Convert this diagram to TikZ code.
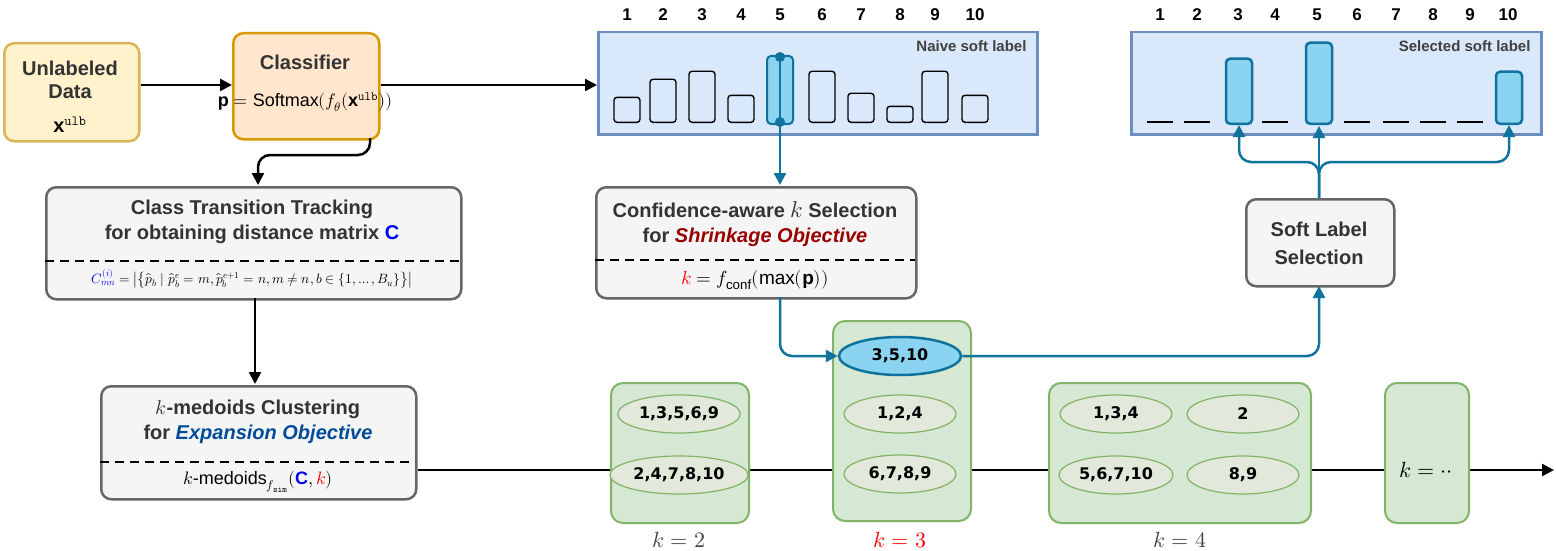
\documentclass[tikz,border=0pt]{standalone}
\usepackage{fontspec}
\setmainfont{Liberation Sans}
\newfontfamily\lblfont{DejaVu Sans}
\usepackage{amsmath}
\usepackage{unicode-math}
\setmathfont{Latin Modern Math}
\usetikzlibrary{shapes.geometric,arrows.meta,positioning}
\definecolor{cyb}{HTML}{10739E}
\definecolor{hl}{HTML}{8AD4F2}
\definecolor{grayfill}{HTML}{F5F5F5}
\definecolor{grayline}{HTML}{666666}
\definecolor{gfill}{HTML}{D5E8D4}
\definecolor{gline}{HTML}{82B366}
\definecolor{efill}{HTML}{E2E8DA}
\definecolor{bfill}{HTML}{DAE8FC}
\definecolor{bline}{HTML}{6C8EBF}
\definecolor{dred}{HTML}{990000}
\definecolor{dblue}{HTML}{004C99}
\definecolor{yline}{HTML}{D6B656}
\definecolor{yfill}{HTML}{FFF2CC}
\definecolor{oline}{HTML}{D79B00}
\definecolor{ofill}{HTML}{FFE6CC}
\newcommand{\fs}[1]{\fontsize{#1}{#1}\selectfont}
\tikzset{
  x=1pt,y=-1pt,
  box/.style={draw=grayline,fill=grayfill,line width=2.5pt,rounded corners=10pt,anchor=north west,inner sep=0},
  grp/.style={draw=gline,fill=gfill,line width=2pt,rounded corners=12pt,anchor=north west,inner sep=0},
  el/.style={ellipse,draw=gline,fill=efill,line width=1.2pt,minimum width=112pt,minimum height=38pt,font=\lblfont\bfseries\fs{16}},
  bar/.style={draw=black,line width=1.4pt,rounded corners=3pt,minimum width=26pt,anchor=south,inner sep=0},
  sbar/.style={draw=cyb,fill=hl,line width=2.5pt,rounded corners=4pt,minimum width=26pt,anchor=south,inner sep=0},
  num/.style={font=\bfseries\fs{17}},
  conn/.style={line width=2.5pt,-{Triangle[length=12pt,width=12pt]}},
  bconn/.style={conn,draw=cyb,color=cyb,rounded corners=12pt},
  btitle/.style={font=\bfseries\fs{20},text=black!80,align=center},
}
\begin{document}
\begin{tikzpicture}
\useasboundingbox (0,0) rectangle (1556,551);
% top-left
\node[box,draw=yline,fill=yfill,minimum width=135pt,minimum height=98pt] (ud) at (3,42) {};
\node[btitle,align=center] at (70,80) {Unlabeled\\[3pt]Data};
\node[font=\fs{20}] at (70,125) {$\mathbf{x}^{\texttt{ulb}}$};
\node[box,draw=oline,fill=ofill,minimum width=146pt,minimum height=106pt] (cl) at (232,32) {};
\node[btitle] at (305,62) {Classifier};
\node[font=\fs{18}] at (305,102) {$\mathbf{p}=\mathrm{Softmax}(f_{\theta}(\mathbf{x}^{\texttt{ulb}}))$};
\draw[conn] (ud.east|-0,85) -- (cl.west|-0,85);

% naive soft label
\node[draw=bline,fill=bfill,line width=2.5pt,anchor=north west,minimum width=439pt,minimum height=102pt,inner sep=0] (nv) at (597,31) {};
\node[font=\bfseries\fs{15},text=black!75,anchor=north east] at (1030,37) {Naive soft label};
\draw[conn] (cl.east|-0,85) -- (nv.west|-0,85);
\foreach \n/\x/\t in {1/627/98,2/663/80,3/702/72,4/741/96,6/822/72,7/861/94,8/900/107,9/935/72,10/975/96}{
  \node[num] at (\x,15) {\n};
  \node[bar,minimum height={123-\t}] (nb\n) at (\x,123) {};
}
\node[num] at (780,15) {5};
\node[sbar,line width=2pt,minimum height=68pt] (nb5) at (780,125) {};
\draw[cyb,line width=2pt] (780,57) -- (780,122);
\fill[cyb] (780,57) circle (5pt) (780,122) circle (5pt);

% selected soft label
\node[draw=bline,fill=bfill,line width=2.5pt,anchor=north west,minimum width=410pt,minimum height=102pt,inner sep=0] (sl) at (1130,31) {};
\node[font=\bfseries\fs{15},text=black!75,anchor=north east] at (1534,37) {Selected soft label};
\foreach \n/\x in {1/1160,2/1197,3/1238,4/1275,5/1317,6/1357,7/1396,8/1433,9/1470,10/1508}{
  \node[num] at (\x,15) {\n};
}
\foreach \n/\x in {1/1160,2/1197,4/1275,6/1357,7/1396,8/1433,9/1470}{
  \draw[line width=2.5pt] (\x-13,122) -- (\x+13,122);
}
\node[sbar,minimum height=65pt] (sb3) at (1239,125) {};
\node[sbar,minimum height=81pt] (sb5) at (1319,125) {};
\node[sbar,minimum height=52pt] (sb10) at (1509,125) {};

% class transition
\node[box,minimum width=415pt,minimum height=112pt] (ct) at (45,186) {};
\node[btitle] at (252,222) {Class Transition Tracking\\[5pt]for obtaining distance matrix {\color{blue}$\mathbf{C}$}};
\draw[line width=2.5pt,dash pattern=on 9pt off 6pt] (45,261) -- (460,261);
\node[font=\fs{13.5}] at (252,279) {${\color{blue}C^{(i)}_{mn}}=\left|\left\{\hat{p}_b\mid \hat{p}^{e}_b=m,\hat{p}^{e+1}_b=n,m\neq n,b\in\{1,\ldots,B_u\}\right\}\right|$};
\draw[conn,rounded corners=12pt] (370,138) -- (370,155) -- (258,155) -- (258,185);

% k-medoids
\node[box,minimum width=315pt,minimum height=113pt] (km) at (100,385) {};
\node[btitle] at (258,422) {$k$-medoids Clustering\\[5pt]for {\color{dblue}\itshape Expansion Objective}};
\draw[line width=2.5pt,dash pattern=on 9pt off 6pt] (100,462) -- (415,462);
\node[font=\fs{18}] at (258,482) {$k\mbox{-medoids}_{f_{\texttt{sim}}}({\color{blue}\mathbf{C}},{\color{red}k})$};
\draw[conn] (255,298) -- (255,384);
\coordinate (end) at (1554,470);
\draw[conn] (km.east|-0,470) -- (end);

% confidence
\node[box,minimum width=320pt,minimum height=111pt] (cf) at (595,186) {};
\node[btitle] at (755,224) {Confidence-aware {\fs{23}$k$} Selection\\[5pt]for {\color{dred}\itshape Shrinkage Objective}};
\draw[line width=2.5pt,dash pattern=on 9pt off 6pt] (595,260) -- (915,260);
\node[font=\fs{19}] at (755,280) {${\color{red}k}=f_{\mathrm{conf}}(\max(\mathbf{p}))$};
\draw[bconn] (780,122) -- (780,185);

% groups
\node[grp,minimum width=138pt,minimum height=140pt] (g2) at (610,382) {};
\node[el] (e21) at (679,414) {1,3,5,6,9};
\node[el] (e22) at (679,475) {2,4,7,8,10};
\node[grp,minimum width=138pt,minimum height=200pt] (g3) at (832,320) {};
\node[el] (e32) at (900,414) {1,2,4};
\node[el] (e33) at (900,474) {6,7,8,9};
\node[el,draw=cyb,fill=hl,line width=2.5pt,minimum width=122pt] (e31) at (900,356) {3,5,10};
\node[grp,minimum width=262pt,minimum height=140pt] (g4) at (1048,382) {};
\node[el] (e41) at (1116,414) {1,3,4};
\node[el] (e42) at (1243,414) {2};
\node[el] (e43) at (1116,475) {5,6,7,10};
\node[el] (e44) at (1243,475) {8,9};
\node[grp,minimum width=84pt,minimum height=140pt] (g5) at (1384,382) {};
\node[font=\fs{22}] at (1426,470) {$k=\cdot\cdot$};
\node[font=\fs{22},text=black!75] at (679,540) {$k=2$};
\node[font=\fs{22},text=red] at (900,540) {$k=3$};
\node[font=\fs{22},text=black!75] at (1180,540) {$k=4$};

\draw[bconn] (780,297) -- (780,356) -- (e31.west);

% soft label selection
\node[box,minimum width=148pt,minimum height=87pt] (ss) at (1245,198) {};
\node[btitle] at (1319,243) {Soft Label\\[8pt]Selection};
\draw[bconn] (e31.east) -- (1319,356) -- (1319,286);
\draw[bconn] (1319,198) -- (1319,162) -- (1239,162) -- (sb3.south);
\draw[bconn] (1319,198) -- (1319,126);
\draw[bconn] (1319,198) -- (1319,162) -- (1509,162) -- (sb10.south);
\end{tikzpicture}
\end{document}
